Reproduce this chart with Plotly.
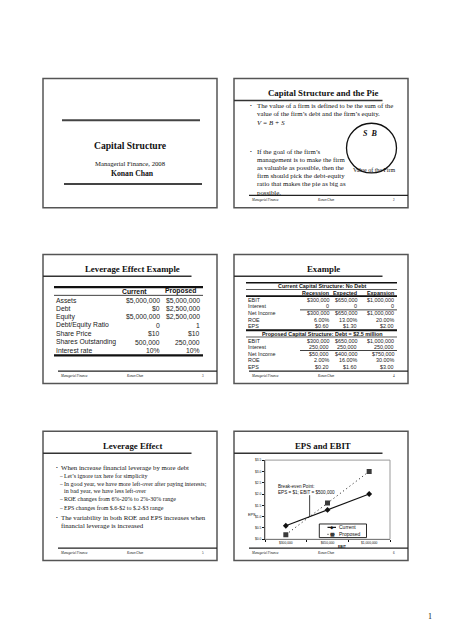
import plotly.graph_objects as go

# page is 452x640, the html body keeps its 8px margin
OFF = 8
W, H = 452 - 2 * OFF, 640 - 2 * OFF

# --- data -------------------------------------------------------------
ebit_labels = ["$300,000", "$650,000", "$1,000,000"]
ebit_values = [300000, 650000, 1000000]
eps_current = [0.60, 1.30, 2.00]
eps_proposed = [0.20, 1.60, 3.00]
breakeven_ebit = 500000
breakeven_eps = 1.0

lev_rows = ["Assets", "Debt", "Equity", "Debt/Equity Ratio", "Share Price",
            "Shares Outstanding", "Interest rate"]
lev_current = ["$5,000,000", "$0", "$5,000,000", "0", "$10", "500,000", "10%"]
lev_proposed = ["$5,000,000", "$2,500,000", "$2,500,000", "1", "$10", "250,000", "10%"]

ex_rows = ["EBIT", "Interest", "Net Income", "ROE", "EPS"]
ex_cols = ["Recession", "Expected", "Expansion"]
ex_current = [["$300,000", "$650,000", "$1,000,000"],
              ["0", "0", "0"],
              ["$300,000", "$650,000", "$1,000,000"],
              ["6.00%", "13.00%", "20.00%"],
              ["$0.60", "$1.30", "$2.00"]]
ex_proposed = [["$300,000", "$650,000", "$1,000,000"],
               ["250,000", "250,000", "250,000"],
               ["$50,000", "$400,000", "$750,000"],
               ["2.00%", "16.00%", "30.00%"],
               ["$0.20", "$1.60", "$3.00"]]

SERIF = "Liberation Serif"
SANS = "Liberation Sans"

shapes = []
annots = []


def px(x):
    return (x - OFF) / W


def py(y):
    return 1 - (y - OFF) / H


def line(x0, y0, x1, y1, w=1, color="#222", dash=None):
    ln = dict(color=color, width=w)
    if dash:
        ln["dash"] = dash
    shapes.append(dict(type="line", xref="paper", yref="paper",
                       x0=px(x0), y0=py(y0), x1=px(x1), y1=py(y1), line=ln))


def text(x, y, s, size=6, font=SERIF, anchor="left", color="#111"):
    annots.append(dict(x=px(x), y=py(y), xref="paper", yref="paper", text=s,
                       showarrow=False, xanchor=anchor, yanchor="middle",
                       borderpad=0, font=dict(family=font, size=size, color=color)))


def slide(x0, y0, num, title=None):
    shapes.append(dict(type="rect", xref="paper", yref="paper",
                       x0=px(x0), y0=py(y0), x1=px(x0 + 174), y1=py(y0 + 130),
                       line=dict(color="#555", width=1.5), fillcolor="white",
                       layer="below"))
    if title:
        text(x0 + 89, y0 + 14.5, "<b>%s</b>" % title, size=8.8, anchor="center")
        line(x0, y0 + 22, x0 + 148.5, y0 + 22, 1.5, "#333")
    if num:
        fy = y0 + 117.5
        line(x0 + 15, fy, x0 + 174, fy, 1.3, "#222")
        text(x0 + 15.5, fy + 4.5, "<i>Managerial Finance</i>", size=3.2)
        text(x0 + 92, fy + 4.5, "<i>Konan Chan</i>", size=3.2, anchor="center")
        text(x0 + 160, fy + 4.5, str(num), size=3.2, anchor="center")


# --- slide 1 ----------------------------------------------------------
slide(43, 77, None)
line(62, 119, 200, 119, 2, "#444")
line(64, 183, 202, 183, 2, "#444")
text(131, 144, "<b>Capital Structure</b>", size=9.6, anchor="center")
text(131, 162, "Managerial Finance, 2008", size=6.7, anchor="center")
text(132, 173, "<b>Konan Chan</b>", size=7.7, anchor="center")

# --- slide 2 ----------------------------------------------------------
slide(234, 77, 2, "Capital Structure and the Pie")
BODY = 6.8
text(249, 104, "•", size=5)
text(255.5, 104, "The value of a firm is defined to be the sum of the", size=BODY)
text(255.5, 112.5, "value of the firm’s debt and the firm’s equity.", size=BODY)
text(255.5, 121, "<i>V = B + S</i>", size=BODY)
text(249, 150, "•", size=5)
for i, s in enumerate(["If the goal of the firm’s",
                       "management is to make the firm",
                       "as valuable as possible, then the",
                       "firm should pick the debt-equity",
                       "ratio that makes the pie as big as",
                       "possible."]):
    text(255.5, 150 + i * 8.25, s, size=BODY)
shapes.append(dict(type="circle", xref="paper", yref="paper",
                   x0=px(346.5), y0=py(122), x1=px(396.5), y1=py(172),
                   line=dict(color="#111", width=1.3)))
text(370, 132, "<b><i>S  B</i></b>", size=8, anchor="center")
text(374, 169, "Value of the Firm", size=6, anchor="center")

# --- slide 3 ----------------------------------------------------------
slide(43, 254, 3, "Leverage Effect Example")
line(54, 287, 203, 287, 2.2, "#111")
line(54, 295.2, 203, 295.2, 0.8, "#111")
line(54, 355.7, 203, 355.7, 2.2, "#111")
LS = 6.8
text(135, 291, "<b>Current</b>", size=LS, font=SANS, anchor="center")
text(180, 291, "<b>Proposed</b>", size=LS, font=SANS, anchor="center")
for i, lab in enumerate(lev_rows):
    yy = 300 + i * 8.45
    text(55, yy, lab, size=LS, font=SANS, color="#222")
    text(161, yy, lev_current[i], size=LS, font=SANS, anchor="right", color="#222")
    text(200.5, yy, lev_proposed[i], size=LS, font=SANS, anchor="right", color="#222")

# --- slide 4 ----------------------------------------------------------
slide(234, 254, 4, "Example")
col_right = [329.5, 357.5, 394.5]
TS = 5.4


def block(y_top, title, rows, first_row):
    text(322, y_top + 3.7, "<b>%s</b>" % title, size=TS, font=SANS, anchor="center")
    line(246, y_top + 6.8, 397, y_top + 6.8, 0.7, "#111")
    for i, lab in enumerate(ex_rows):
        yy = first_row + i * 6.6
        text(246.5, yy, lab, size=TS, font=SANS, color="#222")
        for j in range(3):
            text(col_right[j], yy, rows[i][j], size=TS, font=SANS, anchor="right", color="#222")
    line(300, first_row + 10, 397, first_row + 10, 0.8, "#111")


line(246, 282.5, 397, 282.5, 1.5, "#111")
block(282.5, "Current Capital Structure: No Debt", ex_current, 299.8)
for j, c in enumerate(ex_cols):
    text(col_right[j], 292.7, "<b>%s</b>" % c, size=TS, font=SANS, anchor="right")
line(246, 296, 397, 296, 1.6, "#111")
line(246, 330.3, 397, 330.3, 2.2, "#111")
block(330.3, "Proposed Capital Structure: Debt = $2.5 million", ex_proposed, 340.7)

# --- slide 5 ----------------------------------------------------------
slide(43, 432, 5, "Leverage Effect")
text(55, 468.7, "•", size=5)
text(60.3, 468.7, "When increase financial leverage by more debt", size=6.8)
subs = [(477, "Let’s ignore tax here for simplicity", True),
        (485.3, "In good year, we have more left-over after paying interests;", True),
        (491.8, "in bad year, we have less left-over", False),
        (500.3, "ROE changes from 6%-20% to 2%-30% range", True),
        (509.2, "EPS changes from $.6-$2 to $.2-$3 range", True)]
for yy, s, dash in subs:
    if dash:
        text(57.8, yy, "–", size=5.5)
    text(62.7, yy, s, size=6.0)
text(55, 518.7, "•", size=5)
text(60.3, 518.7, "The variability in both ROE and EPS increases when", size=6.8)
text(60.3, 526.7, "financial leverage is increased", size=6.8)

# --- slide 6 ----------------------------------------------------------
slide(234, 432, 6, "EPS and EBIT")

fig = go.Figure()
fig.add_trace(go.Scatter(x=ebit_labels, y=eps_current, name="Current",
                         mode="lines+markers", showlegend=False,
                         line=dict(color="#111", width=1.2),
                         marker=dict(symbol="diamond", size=4.5, color="#111")))
fig.add_trace(go.Scatter(x=ebit_labels, y=eps_proposed, name="Proposed",
                         mode="lines+markers", showlegend=False,
                         line=dict(color="#111", width=1, dash="1px,3px"),
                         marker=dict(symbol="square", size=5, color="#3a3a3a")))

# break-even leader line
be_pos = (breakeven_ebit - ebit_values[0]) / (ebit_values[1] - ebit_values[0])
shapes.append(dict(type="line", xref="x", yref="y", x0=be_pos, x1=be_pos,
                   y0=breakeven_eps, y1=1.95, line=dict(color="#111", width=0.8)))
# plot area frame
shapes.append(dict(type="rect", xref="paper", yref="paper",
                   x0=px(265), y0=py(540.7), x1=px(390), y1=py(461),
                   line=dict(color="#999", width=1)))
text(276.5, 487.3, "Break-even Point:", size=4.6, font=SANS)
text(276.5, 493.3, "EPS = $1; EBIT = $500,000", size=4.6, font=SANS)
text(251.5, 516, "EPS", size=3.8, font=SANS, anchor="center")
text(342.5, 548.3, "<b>EBIT</b>", size=3.4, font=SANS, anchor="center")

# legend box drawn by hand (plotly's own legend is too tall at this size)
shapes.append(dict(type="rect", xref="paper", yref="paper",
                   x0=px(319.3), y0=py(539), x1=px(366.5), y1=py(525.3),
                   line=dict(color="#111", width=0.9), fillcolor="white"))
line(327.5, 528.7, 336, 528.7, 1.2, "#111")
text(332, 528.7, "◆", size=4.5, font="DejaVu Sans", anchor="center")
text(337.5, 528.7, "Current", size=5, font=SANS)
line(327.5, 535.7, 336, 535.7, 1, "#111", dash="1px,2px")
text(332, 535.7, "■", size=5, font="DejaVu Sans", anchor="center", color="#3a3a3a")
text(337.5, 535.7, "Proposed", size=5, font=SANS)

# page number
text(430, 618, "1", size=8, anchor="center")

fig.update_layout(
    width=W, height=H, margin=dict(l=0, r=0, t=0, b=0),
    paper_bgcolor="white", plot_bgcolor="white",
    shapes=shapes, annotations=annots, showlegend=False,
    xaxis=dict(domain=[px(265), px(390)], type="category",
               categoryorder="array", categoryarray=ebit_labels,
               range=[-0.5, 2.5], tickson="boundaries", ticks="outside",
               ticklen=2, tickcolor="#111", showline=True, linecolor="#111",
               linewidth=1, showgrid=False, zeroline=False,
               tickfont=dict(family=SANS, size=3.3, color="#111")),
    yaxis=dict(domain=[py(540.7), py(461)], range=[0, 3.5], dtick=0.5,
               tickformat="$.1f", ticks="outside", ticklen=2, tickcolor="#111",
               showline=True, linecolor="#111", linewidth=1, showgrid=False,
               zeroline=False, tickfont=dict(family=SANS, size=3.3, color="#111")),
)

fig.write_html("out.html")
